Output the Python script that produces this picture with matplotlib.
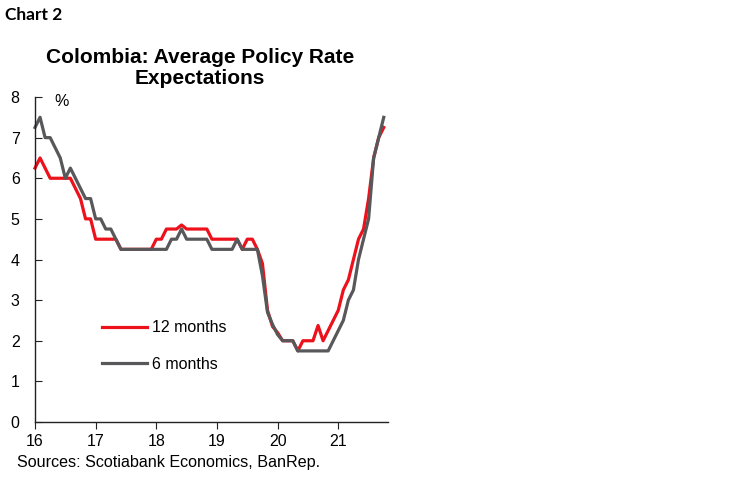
import numpy as np
import matplotlib.pyplot as plt
from matplotlib.lines import Line2D

# monthly survey, Jan 2016 - Oct 2021 (x in years, 16 = 2016)
months = 16 + np.arange(70) / 12

exp_12m = [6.25, 6.5, 6.25, 6.0, 6.0, 6.0, 6.0, 6.0, 5.75, 5.5, 5.0, 5.0,
           4.5, 4.5, 4.5, 4.5, 4.5, 4.25, 4.25, 4.25, 4.25, 4.25, 4.25, 4.25,
           4.5, 4.5, 4.75, 4.75, 4.75, 4.85, 4.75, 4.75, 4.75, 4.75, 4.75, 4.5,
           4.5, 4.5, 4.5, 4.5, 4.5, 4.25, 4.5, 4.5, 4.25, 3.9, 2.75, 2.35,
           2.2, 2.0, 2.0, 2.0, 1.75, 2.0, 2.0, 2.0, 2.375, 2.0, 2.25, 2.5,
           2.75, 3.25, 3.5, 4.0, 4.5, 4.75, 5.5, 6.5, 7.0, 7.25]

exp_6m = [7.25, 7.5, 7.0, 7.0, 6.75, 6.5, 6.0, 6.25, 6.0, 5.75, 5.5, 5.5,
          5.0, 5.0, 4.75, 4.75, 4.5, 4.25, 4.25, 4.25, 4.25, 4.25, 4.25, 4.25,
          4.25, 4.25, 4.25, 4.5, 4.5, 4.75, 4.5, 4.5, 4.5, 4.5, 4.5, 4.25,
          4.25, 4.25, 4.25, 4.25, 4.5, 4.25, 4.25, 4.25, 4.25, 3.6, 2.7, 2.4,
          2.15, 2.0, 2.0, 2.0, 1.75, 1.75, 1.75, 1.75, 1.75, 1.75, 1.75, 2.0,
          2.25, 2.5, 3.0, 3.25, 4.0, 4.5, 5.0, 6.5, 7.0, 7.5]

year_ticks = [16, 17, 18, 19, 20, 21]
year_labels = ['16', '17', '18', '19', '20', '21']

red = '#EC111A'
grey = '#58585A'

plt.rcParams['font.family'] = ['Liberation Sans', 'DejaVu Sans']

fig = plt.figure(figsize=(7.5, 4.82), dpi=100)
ax = fig.add_axes([35 / 750, 60 / 482, 353 / 750, 325 / 482])

ax.plot(months, exp_12m, color=red, lw=2.3, clip_on=False)
ax.plot(months, exp_6m, color=grey, lw=2.3, clip_on=False)

ax.set_xlim(16, 21.82)
ax.set_ylim(0, 8)
ax.set_xticks(year_ticks)
ax.set_xticklabels(year_labels)
ax.set_yticks(range(0, 9))

for s in ['top', 'right']:
    ax.spines[s].set_visible(False)
for s in ['left', 'bottom']:
    ax.spines[s].set_color('#222222')
    ax.spines[s].set_linewidth(1.0)

ax.tick_params(axis='y', direction='in', length=5, pad=11, labelsize=11.5, color='#222222')
ax.tick_params(axis='x', direction='out', length=5, pad=4, labelsize=11.5, color='#222222')

ax.text(0.055, 0.985, '%', transform=ax.transAxes, fontsize=11.5, va='center', ha='left')

handles = [Line2D([], [], color=red, lw=2.3), Line2D([], [], color=grey, lw=2.3)]
ax.legend(handles, ['12 months', '6 months'], loc='center left',
          bbox_to_anchor=(0.19, 0.233), frameon=False, fontsize=11.5,
          handlelength=2.8, handletextpad=0.35, labelspacing=1.35, borderpad=0,
          borderaxespad=0)

fig.text(200 / 750, 1 - 68 / 482, 'Colombia: Average Policy Rate\nExpectations',
         ha='center', va='center', fontsize=15, fontweight='bold', linespacing=1.1)
fig.text(5 / 750, 1 - 15 / 482, 'Chart 2', ha='left', va='center',
         fontsize=12.5, fontweight='bold', family=['Lato', 'DejaVu Sans'])
fig.text(17 / 750, 1 - 463 / 482, 'Sources: Scotiabank Economics, BanRep.',
         ha='left', va='center', fontsize=11.6)

fig.savefig('out.png', dpi=100)
